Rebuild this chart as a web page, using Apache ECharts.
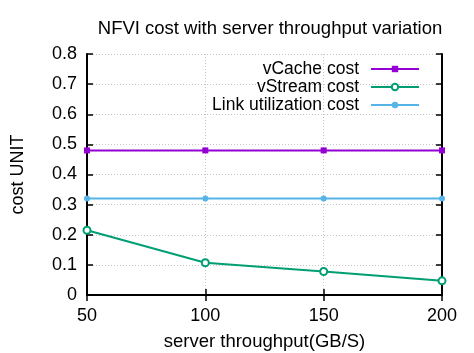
<!DOCTYPE html>
<html>
<head>
<meta charset="utf-8">
<script src="https://cdn.jsdelivr.net/npm/echarts@6/dist/echarts.min.js"></script>
<style>
  html, body { margin: 0; padding: 0; background: #fff; }
  #chart { width: 474px; height: 353px; }
</style>
</head>
<body>
<div id="chart"></div>
<script>
// values
const throughput = [50, 100, 150, 200];
const vCacheCost = [0.48, 0.48, 0.48, 0.48];
const vStreamCost = [0.215, 0.107, 0.078, 0.047];
const linkCost = [0.32, 0.32, 0.32, 0.32];

const font = 'Liberation Sans, Arial, sans-serif';
const colors = ['#9400d3', '#009e73', '#56b4e9'];

const pairs = (xs, ys) => xs.map((x, i) => [x, ys[i]]);

let myChart = echarts.init(document.getElementById('chart'));

const legendItem = (name, top) => ({
    data: [name],
    right: 54,
    top: top,
    align: 'right',
    itemWidth: 48,
    itemHeight: 8,
    padding: 0,
    textStyle: { fontFamily: font, fontSize: 17.5, color: '#000', padding: [0, 7, 0, 0] },
    selectedMode: false
});

const tickStyle = { show: true, inside: true, length: 6, lineStyle: { color: '#000', width: 1.5 } };
const gridLine = { show: true, lineStyle: { color: '#c4c4c4', type: [1, 2], width: 1 } };

let option = {
    backgroundColor: '#fff',
    textStyle: { fontFamily: font },
    title: {
        text: 'NFVI cost with server throughput variation',
        left: 265,
        textAlign: 'center',
        top: 14,
        textStyle: { fontFamily: font, fontSize: 18.5, fontWeight: 'normal', color: '#000' }
    },
    legend: [
        legendItem('vCache cost', 60),
        legendItem('vStream cost', 78),
        legendItem('Link utilization cost', 96)
    ],
    grid: { left: 87, right: 32, top: 54, bottom: 58, outerBoundsMode: 'none', containLabel: false },
    xAxis: [{
        type: 'value',
        min: 50,
        max: 200,
        interval: 50,
        name: 'server throughput(GB/S)',
        nameLocation: 'middle',
        nameGap: 37,
        nameTextStyle: { fontFamily: font, fontSize: 18.5, color: '#000' },
        axisLine: { lineStyle: { color: '#000', width: 2 } },
        axisTick: tickStyle,
        axisLabel: { fontFamily: font, fontSize: 18, color: '#000', margin: 12 },
        splitLine: gridLine
    }, {
        type: 'value',
        position: 'top',
        min: 50,
        max: 200,
        interval: 50,
        axisLine: { show: true, lineStyle: { color: '#000', width: 2 } },
        axisTick: tickStyle,
        axisLabel: { show: false },
        splitLine: { show: false }
    }],
    yAxis: [{
        type: 'value',
        min: 0,
        max: 0.8,
        interval: 0.1,
        name: 'cost UNIT',
        nameLocation: 'middle',
        nameGap: 60,
        nameTextStyle: { fontFamily: font, fontSize: 18, color: '#000' },
        axisLine: { show: true, lineStyle: { color: '#000', width: 2 } },
        axisTick: tickStyle,
        axisLabel: { fontFamily: font, fontSize: 18, color: '#000', margin: 10 },
        splitLine: gridLine
    }, {
        type: 'value',
        position: 'right',
        min: 0,
        max: 0.8,
        interval: 0.1,
        axisLine: { show: true, lineStyle: { color: '#000', width: 2 } },
        axisTick: tickStyle,
        axisLabel: { show: false },
        splitLine: { show: false }
    }],
    series: [{
        name: 'vCache cost',
        type: 'line',
        data: pairs(throughput, vCacheCost),
        color: colors[0],
        lineStyle: { width: 2, color: colors[0] },
        symbol: 'rect',
        symbolSize: 6,
        itemStyle: { color: colors[0] }
    }, {
        name: 'vStream cost',
        type: 'line',
        data: pairs(throughput, vStreamCost),
        color: colors[1],
        lineStyle: { width: 2, color: colors[1] },
        symbol: 'emptyCircle',
        symbolSize: 7,
        itemStyle: { color: colors[1], borderColor: colors[1], borderWidth: 1.5 }
    }, {
        name: 'Link utilization cost',
        type: 'line',
        data: pairs(throughput, linkCost),
        color: colors[2],
        lineStyle: { width: 2, color: colors[2] },
        symbol: 'circle',
        symbolSize: 6,
        itemStyle: { color: colors[2] }
    }],
    animation: false
};
myChart.setOption(option);
</script>
</body>
</html>
